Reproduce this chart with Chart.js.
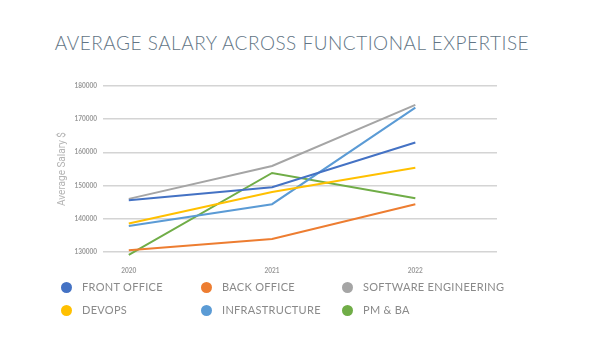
<!DOCTYPE html>
<html>
<head>
<meta charset="utf-8">
<script src="https://cdn.jsdelivr.net/npm/chart.js@4"></script>
<style>
  html, body { margin: 0; padding: 0; background: #fff; }
  #wrap { position: relative; width: 600px; height: 338px; overflow: hidden; }
  #myChart { position: absolute; left: 0; top: 0; }
  #title {
    position: absolute; left: 0; top: 31px; width: 584px; text-align: center;
    font-family: Lato, sans-serif; font-size: 19px; font-weight: 300; color: #627585;
    letter-spacing: 0.5px; white-space: nowrap;
  }
  #legend { position: absolute; left: 0; top: 0; width: 600px; height: 338px; pointer-events: none; }
  .item {
    position: absolute; font-family: Lato, sans-serif; font-size: 11px; color: #8a8a8a;
    letter-spacing: 0.3px; white-space: nowrap; line-height: 14px;
  }
  .dot { position: absolute; width: 11px; height: 11px; border-radius: 50%; }
</style>
</head>
<body>
<div id="wrap">
  <div id="title">AVERAGE SALARY ACROSS FUNCTIONAL EXPERTISE</div>
  <canvas id="myChart" width="600" height="338"></canvas>
  <div id="legend"></div>
</div>
<script>
const years = [2020, 2021, 2022];

const frontOffice = [145600, 149500, 163000];
const backOffice = [130500, 133900, 144400];
const softwareEngineering = [146000, 155900, 174300];
const devops = [138600, 148100, 155400];
const infrastructure = [137800, 144400, 173500];
const pmBa = [129100, 153800, 146200];

const seriesNames = ["FRONT OFFICE", "BACK OFFICE", "SOFTWARE ENGINEERING", "DEVOPS", "INFRASTRUCTURE", "PM & BA"];
const seriesValues = [frontOffice, backOffice, softwareEngineering, devops, infrastructure, pmBa];
const seriesColors = ["#4472c4", "#ed7d31", "#a5a5a5", "#ffc000", "#5b9bd5", "#70ad47"];

const yTicks = [130000, 140000, 150000, 160000, 170000, 180000];

const datasets = seriesValues.map((vals, i) => {
  return {
    label: seriesNames[i],
    data: vals.map((v, j) => ({ x: years[j], y: v })),
    borderColor: seriesColors[i],
    backgroundColor: seriesColors[i],
    borderWidth: 2,
    pointRadius: 0,
    tension: 0,
    clip: false
  };
});

const ctx = document.getElementById("myChart").getContext("2d");
const myChart = new Chart(ctx, {
  type: "line",
  data: { datasets: datasets },
  options: {
    responsive: false,
    animation: false,
    layout: { padding: { left: 52, right: 103, top: 86, bottom: 61 } },
    plugins: { legend: { display: false }, tooltip: { enabled: false } },
    scales: {
      x: {
        type: "linear",
        min: 2019.82,
        max: 2022.57,
        afterBuildTicks: (scale) => { scale.ticks = years.map(v => ({ value: v })); },
        afterFit: (scale) => { scale.height = 25; },
        grid: { display: false },
        border: { display: false },
        ticks: {
          padding: 7,
          color: "#999",
          font: { family: "Lato", size: 6.5, weight: "bold" },
          callback: (v) => String(v)
        }
      },
      y: {
        min: 130000,
        max: 180000,
        afterBuildTicks: (scale) => { scale.ticks = yTicks.map(v => ({ value: v })); },
        afterFit: (scale) => { scale.width = 51; },
        grid: { color: "#d4d4d4", lineWidth: 1.5, drawTicks: false },
        border: { display: false },
        ticks: {
          padding: 6,
          color: "#999",
          font: { family: "Lato", size: 6.5, weight: "bold" },
          callback: (v) => String(v)
        },
        title: {
          display: true,
          text: "Average Salary $",
          color: "#b4b4b4",
          font: { family: "Roboto", size: 10 }
        }
      }
    }
  }
});

// legend in three columns
const legendCols = [66, 206, 347];
const legendRows = [287, 310];
const legend = document.getElementById("legend");
seriesNames.forEach((name, i) => {
  const cx = legendCols[i % 3];
  const cy = legendRows[Math.floor(i / 3)];
  const dot = document.createElement("div");
  dot.className = "dot";
  dot.style.left = (cx - 5.5) + "px";
  dot.style.top = (cy - 5.5) + "px";
  dot.style.background = seriesColors[i];
  legend.append(dot);
  const label = document.createElement("div");
  label.className = "item";
  label.style.left = (cx + 16) + "px";
  label.style.top = (cy - 7) + "px";
  label.innerText = name;
  legend.append(label);
});
</script>
</body>
</html>
